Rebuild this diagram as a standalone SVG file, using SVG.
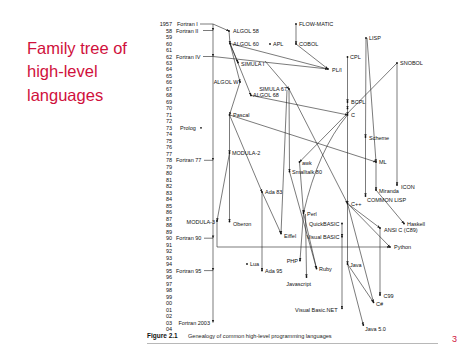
<svg xmlns="http://www.w3.org/2000/svg" width="474" height="361" viewBox="0 0 474 361">
<defs>
<marker id="ah" viewBox="0 0 6 6" refX="5.5" refY="3" markerWidth="3" markerHeight="3" markerUnits="userSpaceOnUse" orient="auto"><path d="M0,0.5L6,3L0,5.5z" fill="#222"/></marker>
<style>
.e{stroke:#222;stroke-width:0.6;fill:none;marker-end:url(#ah)}
.l{stroke:#222;stroke-width:0.6;fill:none}
.t{font-family:"Liberation Sans",Arial,sans-serif;font-size:5.5px;fill:#111}
.y{font-family:"Liberation Sans",Arial,sans-serif;font-size:5.5px;fill:#111;text-anchor:end}
.r{text-anchor:end}
.d{fill:#111}
.title{font-family:"Liberation Sans",Arial,sans-serif;font-size:16.5px;fill:#d0103c}
</style>
</defs>
<rect width="474" height="361" fill="#fff"/>
<g id="title"><text class="title" x="27" y="53.5">Family tree of</text><text class="title" x="27" y="77">high-level</text><text class="title" x="27" y="100.5">languages</text></g>
<g id="years">
<text class="y"><tspan x="172" y="26">1957</tspan><tspan x="172" y="32.5">58</tspan><tspan x="172" y="39">59</tspan><tspan x="172" y="45.5">60</tspan><tspan x="172" y="52">61</tspan><tspan x="172" y="58.5">62</tspan><tspan x="172" y="64.9">63</tspan><tspan x="172" y="71.4">64</tspan><tspan x="172" y="77.9">65</tspan><tspan x="172" y="84.4">66</tspan><tspan x="172" y="90.9">67</tspan><tspan x="172" y="97.4">68</tspan><tspan x="172" y="103.9">69</tspan><tspan x="172" y="110.4">70</tspan><tspan x="172" y="116.9">71</tspan><tspan x="172" y="123.4">72</tspan><tspan x="172" y="129.8">73</tspan><tspan x="172" y="136.3">74</tspan><tspan x="172" y="142.8">75</tspan><tspan x="172" y="149.3">76</tspan><tspan x="172" y="155.8">77</tspan><tspan x="172" y="162.3">78</tspan><tspan x="172" y="168.8">79</tspan><tspan x="172" y="175.3">80</tspan><tspan x="172" y="181.8">81</tspan><tspan x="172" y="188.3">82</tspan><tspan x="172" y="194.7">83</tspan><tspan x="172" y="201.2">84</tspan><tspan x="172" y="207.7">85</tspan><tspan x="172" y="214.2">86</tspan><tspan x="172" y="220.7">87</tspan><tspan x="172" y="227.2">88</tspan><tspan x="172" y="233.7">89</tspan><tspan x="172" y="240.2">90</tspan><tspan x="172" y="246.7">91</tspan><tspan x="172" y="253.1">92</tspan><tspan x="172" y="259.6">93</tspan><tspan x="172" y="266.1">94</tspan><tspan x="172" y="272.6">95</tspan><tspan x="172" y="279.1">96</tspan><tspan x="172" y="285.6">97</tspan><tspan x="172" y="292.1">98</tspan><tspan x="172" y="298.6">99</tspan><tspan x="172" y="305">00</tspan><tspan x="172" y="311.5">01</tspan><tspan x="172" y="318">02</tspan><tspan x="172" y="324.5">03</tspan><tspan x="172" y="331">04</tspan></text>
</g>
<g id="connectors">
<line class="e" x1="213" y1="24" x2="213" y2="30.5"/>
<line class="e" x1="213" y1="30.5" x2="213" y2="56.5"/>
<line class="e" x1="213" y1="56.5" x2="213" y2="160.3"/>
<line class="e" x1="213" y1="160.3" x2="213" y2="238.2"/>
<line class="e" x1="213" y1="238.2" x2="213" y2="270.6"/>
<line class="e" x1="213" y1="270.6" x2="213" y2="322.5"/>
<line class="l" x1="200" y1="24" x2="213" y2="24"/>
<line class="l" x1="203" y1="30.5" x2="213" y2="30.5"/>
<line class="l" x1="203" y1="56.5" x2="213" y2="56.5"/>
<line class="l" x1="204" y1="160.3" x2="213" y2="160.3"/>
<line class="l" x1="204" y1="238.2" x2="213" y2="238.2"/>
<line class="l" x1="204" y1="270.6" x2="213" y2="270.6"/>
<line class="e" x1="213" y1="24" x2="229" y2="31"/>
<line class="e" x1="229" y1="31" x2="230" y2="43.5"/>
<line class="e" x1="296" y1="24" x2="296" y2="44"/>
<line class="e" x1="296" y1="44" x2="328" y2="69"/>
<line class="e" x1="230" y1="43.5" x2="328" y2="69"/>
<line class="e" x1="213" y1="56.5" x2="328" y2="69"/>
<line class="e" x1="230" y1="43.5" x2="238" y2="62.5"/>
<line class="e" x1="265" y1="61" x2="289" y2="89"/>
<line class="e" x1="230" y1="43.5" x2="240" y2="82"/>
<line class="e" x1="230" y1="43.5" x2="251" y2="95.4"/>
<line class="e" x1="347.5" y1="57" x2="347.5" y2="102"/>
<line class="e" x1="347.5" y1="102" x2="347.5" y2="108.4"/>
<line class="e" x1="347.5" y1="108.4" x2="347.5" y2="114.9"/>
<line class="e" x1="366" y1="38" x2="365.5" y2="137"/>
<line class="e" x1="365.5" y1="137" x2="365.5" y2="196"/>
<line class="e" x1="367" y1="38" x2="376" y2="162"/>
<line class="e" x1="376" y1="162" x2="376" y2="190"/>
<line class="e" x1="376" y1="190" x2="404" y2="223.5"/>
<line class="e" x1="397" y1="63" x2="397" y2="185"/>
<line class="e" x1="397" y1="63" x2="299.5" y2="162"/>
<line class="e" x1="251" y1="95.4" x2="347.5" y2="114.9"/>
<line class="e" x1="240" y1="82" x2="229.5" y2="114.9"/>
<line class="e" x1="229.5" y1="114.9" x2="229.5" y2="153"/>
<line class="e" x1="229.5" y1="114.9" x2="376" y2="162"/>
<line class="e" x1="229.5" y1="114.9" x2="262" y2="192"/>
<line class="e" x1="289" y1="89" x2="289.5" y2="171.5"/>
<line class="e" x1="287" y1="90" x2="281" y2="233.5"/>
<line class="e" x1="289" y1="89" x2="347.5" y2="203.5"/>
<line class="e" x1="347.5" y1="114.9" x2="347.5" y2="203.5"/>
<path class="e" d="M347.5,114.9Q318,150 303.5,213"/>
<line class="e" x1="299.5" y1="162" x2="303.5" y2="213"/>
<line class="e" x1="229.5" y1="153" x2="217" y2="221"/>
<line class="e" x1="229.5" y1="153" x2="229.5" y2="221.5"/>
<polyline class="e" points="217,221 217,247 390,247"/>
<line class="e" x1="262" y1="192" x2="262" y2="270.5"/>
<line class="e" x1="262" y1="192" x2="281" y2="233.5"/>
<line class="e" x1="347.5" y1="203.5" x2="380" y2="228"/>
<line class="e" x1="349" y1="205" x2="390" y2="247"/>
<line class="e" x1="380" y1="228" x2="380" y2="295"/>
<line class="e" x1="347.5" y1="203.5" x2="347.5" y2="264"/>
<line class="e" x1="347.5" y1="264" x2="363.3" y2="325"/>
<line class="e" x1="347.5" y1="264" x2="373.5" y2="302.3"/>
<line class="e" x1="347.5" y1="203.5" x2="373.5" y2="302.3"/>
<line class="e" x1="342" y1="223.5" x2="342" y2="236.7"/>
<line class="e" x1="342" y1="236.7" x2="342" y2="308.3"/>
<line class="e" x1="303.5" y1="213" x2="300" y2="260.5"/>
<line class="e" x1="303.5" y1="213" x2="316.5" y2="268.5"/>
<line class="e" x1="289.5" y1="171.5" x2="316.5" y2="268.5"/>
<line class="e" x1="305.5" y1="214" x2="306.5" y2="277"/>
</g>
<g id="n-fortran1"><text class="t" x="177" y="26">Fortran I</text></g>
<g id="n-fortran2"><text class="t" x="176" y="32.5">Fortran II</text></g>
<g id="n-fortran4"><text class="t" x="176" y="58.5">Fortran IV</text></g>
<g id="n-fortran77"><text class="t" x="176" y="162.3">Fortran 77</text></g>
<g id="n-fortran90"><text class="t" x="176" y="240.2">Fortran 90</text></g>
<g id="n-fortran95"><text class="t" x="176" y="272.6">Fortran 95</text></g>
<g id="n-fortran2003"><text class="t r" x="210" y="324.5">Fortran 2003</text></g>
<g id="n-flowmatic"><circle class="d" cx="296" cy="24" r="0.9"/><text class="t" x="299" y="26">FLOW-MATIC</text></g>
<g id="n-cobol"><circle class="d" cx="296" cy="44" r="0.9"/><text class="t" x="299" y="46">COBOL</text></g>
<g id="n-algol58"><circle class="d" cx="229" cy="31" r="0.9"/><text class="t" x="233" y="33">ALGOL 58</text></g>
<g id="n-algol60"><circle class="d" cx="230" cy="43.5" r="0.9"/><text class="t" x="233" y="45.5">ALGOL 60</text></g>
<g id="n-apl"><circle class="d" cx="270" cy="44" r="0.9"/><text class="t" x="273" y="46">APL</text></g>
<g id="n-lisp"><circle class="d" cx="366" cy="38" r="0.9"/><text class="t" x="369" y="40">LISP</text></g>
<g id="n-cpl"><circle class="d" cx="347.5" cy="57" r="0.9"/><text class="t" x="350" y="59">CPL</text></g>
<g id="n-snobol"><circle class="d" cx="397" cy="63" r="0.9"/><text class="t" x="400" y="65">SNOBOL</text></g>
<g id="n-simula1"><circle class="d" cx="238" cy="62.5" r="0.9"/><text class="t" x="241" y="65.5">SIMULA I</text></g>
<g id="n-pl1"><circle class="d" cx="328" cy="69" r="0.9"/><text class="t" x="332" y="71.5">PL/I</text></g>
<g id="n-algolw"><circle class="d" cx="240" cy="82" r="0.9"/><text class="t r" x="238.5" y="84.4">ALGOL W</text></g>
<g id="n-simula67"><circle class="d" cx="289" cy="89" r="0.9"/><text class="t r" x="287" y="90.5">SIMULA 67</text></g>
<g id="n-algol68"><circle class="d" cx="251" cy="95.4" r="0.9"/><text class="t" x="253" y="97.4">ALGOL 68</text></g>
<g id="n-bcpl"><circle class="d" cx="347.5" cy="102" r="0.9"/><text class="t" x="351" y="104">BCPL</text></g>
<g id="n-b"><circle class="d" cx="347.5" cy="108.4" r="0.9"/></g>
<g id="n-c"><circle class="d" cx="347.5" cy="114.9" r="0.9"/><text class="t" x="351" y="117">C</text></g>
<g id="n-pascal"><circle class="d" cx="229.5" cy="114.9" r="0.9"/><text class="t" x="233" y="117">Pascal</text></g>
<g id="n-prolog"><circle class="d" cx="201" cy="127.8" r="0.9"/><text class="t" x="180" y="129.8">Prolog</text></g>
<g id="n-scheme"><circle class="d" cx="365.5" cy="137" r="0.9"/><text class="t" x="369" y="139.5">Scheme</text></g>
<g id="n-modula2"><circle class="d" cx="229.5" cy="153" r="0.9"/><text class="t" x="232" y="155">MODULA-2</text></g>
<g id="n-ml"><circle class="d" cx="376" cy="162" r="0.9"/><text class="t" x="379" y="164">ML</text></g>
<g id="n-awk"><circle class="d" cx="299.5" cy="162" r="0.9"/><text class="t" x="302" y="164.5">awk</text></g>
<g id="n-smalltalk"><circle class="d" cx="289.5" cy="171.5" r="0.9"/><text class="t" x="292" y="174">Smalltalk 80</text></g>
<g id="n-icon"><circle class="d" cx="397" cy="185" r="0.9"/><text class="t" x="401" y="189">ICON</text></g>
<g id="n-miranda"><circle class="d" cx="376" cy="190" r="0.9"/><text class="t" x="379" y="192.5">Miranda</text></g>
<g id="n-ada83"><circle class="d" cx="262" cy="192" r="0.9"/><text class="t" x="265" y="194">Ada 83</text></g>
<g id="n-commonlisp"><circle class="d" cx="365.5" cy="196" r="0.9"/><text class="t" x="367" y="202">COMMON LISP</text></g>
<g id="n-cpp"><circle class="d" cx="347.5" cy="203.5" r="0.9"/><text class="t" x="351" y="205.5">C++</text></g>
<g id="n-perl"><circle class="d" cx="303.5" cy="213" r="0.9"/><text class="t" x="307" y="215.5">Perl</text></g>
<g id="n-modula3"><circle class="d" cx="217" cy="221" r="0.9"/><text class="t r" x="215" y="223.5">MODULA-3</text></g>
<g id="n-haskell"><circle class="d" cx="404" cy="223.5" r="0.9"/><text class="t" x="407" y="225.5">Haskell</text></g>
<g id="n-quickbasic"><circle class="d" cx="342" cy="223.5" r="0.9"/><text class="t r" x="339.5" y="225.5">QuickBASIC</text></g>
<g id="n-oberon"><circle class="d" cx="229.5" cy="221.5" r="0.9"/><text class="t" x="233" y="226">Oberon</text></g>
<g id="n-ansic"><circle class="d" cx="380" cy="228" r="0.9"/><text class="t" x="384" y="231.5">ANSI C (C89)</text></g>
<g id="n-eiffel"><circle class="d" cx="281" cy="233.5" r="0.9"/><text class="t" x="284" y="237.5">Eiffel</text></g>
<g id="n-visualbasic"><circle class="d" cx="342" cy="236.7" r="0.9"/><text class="t r" x="339.5" y="238.7">Visual BASIC</text></g>
<g id="n-python"><circle class="d" cx="390" cy="247" r="0.9"/><text class="t" x="394" y="249">Python</text></g>
<g id="n-php"><circle class="d" cx="300" cy="260.5" r="0.9"/><text class="t r" x="298" y="263">PHP</text></g>
<g id="n-lua"><circle class="d" cx="247" cy="264" r="0.9"/><text class="t" x="250" y="266">Lua</text></g>
<g id="n-java"><circle class="d" cx="347.5" cy="264" r="0.9"/><text class="t" x="350" y="266.5">Java</text></g>
<g id="n-ada95"><circle class="d" cx="262" cy="270.5" r="0.9"/><text class="t" x="265" y="272.5">Ada 95</text></g>
<g id="n-ruby"><circle class="d" cx="316.5" cy="268.5" r="0.9"/><text class="t" x="319" y="271">Ruby</text></g>
<g id="n-javascript"><circle class="d" cx="306.5" cy="277" r="0.9"/><text class="t r" x="311" y="285.5">Javascript</text></g>
<g id="n-c99"><circle class="d" cx="380" cy="295" r="0.9"/><text class="t" x="383.5" y="297.5">C99</text></g>
<g id="n-csharp"><circle class="d" cx="373.5" cy="302.3" r="0.9"/><text class="t" x="376" y="305.5">C#</text></g>
<g id="n-vbnet"><circle class="d" cx="342" cy="308.3" r="0.9"/><text class="t r" x="337.5" y="312">Visual Basic.NET</text></g>
<g id="n-java5"><circle class="d" cx="363.3" cy="325" r="0.9"/><text class="t" x="365" y="330.5">Java 5.0</text></g>
<g id="caption">
<text x="147" y="338" style="font-family:'Liberation Sans',Arial,sans-serif;font-size:6.5px;font-weight:bold;fill:#111">Figure 2.1</text>
<text x="188" y="338" style="font-family:'Liberation Sans',Arial,sans-serif;font-size:5.6px;fill:#222">Genealogy of common high-level programming languages</text>
<line x1="147" y1="343.5" x2="438" y2="343.5" stroke="#888" stroke-width="0.6"/>
</g>
<text x="452" y="342" style="font-family:'Liberation Sans',Arial,sans-serif;font-size:9px;fill:#d0103c">3</text>
</svg>
